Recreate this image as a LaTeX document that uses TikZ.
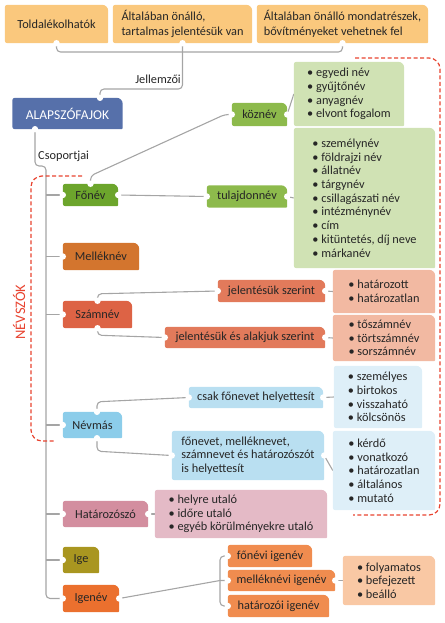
\documentclass[tikz,border=0pt]{standalone}
\usepackage{fontspec}
\setmainfont{Carlito}
\usetikzlibrary{calc}
\definecolor{txt}{HTML}{262626}
\definecolor{lineg}{HTML}{A5A5A5}
\definecolor{redd}{HTML}{E8432F}
\definecolor{cTop}{HTML}{FAC87D}
\definecolor{cAlap}{HTML}{5670AA}
\definecolor{cFon}{HTML}{6CA52C}
\definecolor{cKoz}{HTML}{8DBA4C}
\definecolor{cKozL}{HTML}{D0E2B4}
\definecolor{cMell}{HTML}{D3752E}
\definecolor{cSzam}{HTML}{DD6345}
\definecolor{cJsz}{HTML}{E27A5B}
\definecolor{cSzL}{HTML}{F2B9A2}
\definecolor{cNev}{HTML}{8CCDEA}
\definecolor{cCsak}{HTML}{B9DFF1}
\definecolor{cNevL}{HTML}{DEEFF8}
\definecolor{cHat}{HTML}{D38E9F}
\definecolor{cHatL}{HTML}{E4BAC6}
\definecolor{cIge}{HTML}{A99620}
\definecolor{cIgn}{HTML}{EB702E}
\definecolor{cIgs}{HTML}{F08C4F}
\definecolor{cIgL}{HTML}{F9C8A4}
\pgfdeclarelayer{back}\pgfdeclarelayer{fills}\pgfsetlayers{back,fills,main}
\newcommand\fs{\fontsize{12.3}{13.7}\selectfont}
\newcommand\fsb{\fontsize{13.5}{15}\selectfont}
\newcommand\fsn{\fontsize{14.5}{16}\selectfont}
\newcommand\bu{\textbullet\ }
\newcommand\mmshape[2]{\fill[#2] (#1.west) [rounded corners=2.5pt] -- (#1.north west) -- (#1.north) [rounded corners=6pt] -- (#1.north east) -- (#1.east) [rounded corners=1pt] -- (#1.south east) -- (#1.south) [rounded corners=2.5pt] -- (#1.south west) -- cycle;}
\newcommand\notch[1]{\fill[white] (#1) circle (3.2);}
\begin{document}
\begin{tikzpicture}[x=1pt,y=-1pt,
  every node/.style={font=\fs, text=txt, inner sep=0pt},
  bx/.style 2 args={minimum width=#1, minimum height=#2},
  conn/.style={draw=lineg, line width=1.1pt},
  bnd/.style={draw=redd, line width=1.2pt, dash pattern=on 4pt off 2.5pt, rounded corners=11pt}]
\useasboundingbox (0,0) rectangle (444,623);
% top
\node[bx={103}{38}] (t1) at (56.5,24) {Toldalékolhatók};
\node[bx={139}{38}, align=left] (t2) at (182.5,24) {Általában önálló,\\[1.3pt]tartalmas jelentésük van};
\node[bx={171}{38}, align=left] (t3) at (342.5,24) {Általában önálló mondatrészek,\\[1.3pt]bővítményeket vehetnek fel};
\node[bx={110}{31}, text=white, font=\fsb] (alap) at (67.5,113.5) {ALAPSZÓFAJOK};
\node[anchor=base east] (jel) at (181,84) {Jellemzői};
\node[anchor=base west] (csop) at (38,159.5) {Csoportjai};
\node[rotate=90, text=redd, font=\fsn] (nevsz) at (19,312) {NÉVSZÓK};
% left column
\node[bx={55}{22}] (fonev) at (90.5,195) {Főnév};
\node[bx={76}{27}] (mell) at (101,256.5) {Melléknév};
\node[bx={69}{27}] (szam) at (97.5,314.5) {Számnév};
\node[bx={59}{26}] (nevm) at (92.5,425) {Névmás};
\node[bx={85}{26}] (hatsz) at (105.5,514) {Határozószó};
\node[bx={36}{26}] (ige) at (81,560) {Ige};
\node[bx={56}{27}] (igenev) at (91,598.5) {Igenév};
% right side
\node[bx={55}{23}] (koz) at (259.5,114.5) {köznév};
\node[bx={110}{64}, align=left] (kozL) at (349,94) {\bu egyedi név\\\bu gyűjtőnév\\\bu anyagnév\\\bu elvont fogalom};
\node[bx={80}{22}] (tul) at (247,196.5) {tulajdonnév};
\node[bx={141}{140}, align=left] (tulL) at (364.5,198) {\bu személynév\\\bu földrajzi név\\\bu állatnév\\\bu tárgynév\\\bu csillagászati név\\\bu intézménynév\\\bu cím\\\bu kitüntetés, díj neve\\\bu márkanév};
\node[bx={107}{22}] (jsz) at (271.5,291) {jelentésük szerint};
\node[bx={102}{43}, align=left] (jszL) at (384,291.5) {\bu határozott\\\bu határozatlan};
\node[bx={160}{21}] (jasz) at (245,337.5) {jelentésük és alakjuk szerint};
\node[bx={102}{46}, align=left] (jaszL) at (384,338) {\bu tőszámnév\\\bu törtszámnév\\\bu sorszámnév};
\node[bx={134}{21}] (csak) at (256,397.5) {csak főnevet helyettesít};
\node[bx={88}{62}, align=left] (csakL) at (378,397) {\bu személyes\\\bu birtokos\\\bu visszaható\\\bu kölcsönös};
\node[bx={152}{49}, align=left] (fon) at (248,455.5) {főnevet, melléknevet,\\számnevet és határozószót\\is helyettesít};
\node[bx={102}{79}, align=left] (fonL) at (384,470.5) {\bu kérdő\\\bu vonatkozó\\\bu határozatlan\\\bu általános\\\bu mutató};
\node[bx={172}{48}, align=left] (hatL) at (241,514) {\bu helyre utaló\\\bu időre utaló\\\bu egyéb körülményekre utaló};
\node[bx={84}{22}] (fig) at (270,556) {főnévi igenév};
\node[bx={107}{21}] (mig) at (281.5,580.5) {melléknévi igenév};
\node[bx={101}{22}] (hig) at (278.5,606) {határozói igenév};
\node[bx={92}{49}, align=left] (igL) at (389,580.5) {\bu folyamatos\\\bu befejezett\\\bu beálló};
% coordinates
\coordinate (aT) at ([xshift=32.5pt]alap.north);
\coordinate (aB) at ([xshift=-32.5pt]alap.south);
\coordinate (nT) at ([xshift=4.5pt]nevm.north);
\coordinate (nB) at ([xshift=4.5pt]nevm.south);
\coordinate (brk) at (0,52);
\coordinate (jl) at (0,89);
\coordinate (sp) at (46,166);
\coordinate (ib) at (220,580.5);
\begin{pgfonlayer}{back}
\draw[conn, rounded corners=4pt] (t1.south) -- (t1.south |- brk) -- (t3.south |- brk) -- (t3.south);
\draw[conn, rounded corners=4pt] (t2.south) -- (t2.south |- jl) -- (aT |- jl) -- (aT);
\draw[conn, rounded corners=4pt] (aB) -- (aB |- sp) -- (sp) -- (sp |- igenev.west) -- (igenev.west);
\foreach \n in {fonev,mell,szam,nevm,hatsz,ige} \draw[conn] (sp |- \n.west) -- (\n.west);
\draw[conn, rounded corners=4pt] (fonev.north) -- ++(0,-8) -- ([xshift=-7pt]koz.west) -- (koz.west);
\draw[conn] (fonev.east) -- (tul.west);
\draw[conn, rounded corners=4pt] (szam.north) -- ++(0,-7) -- (jsz.west);
\draw[conn, rounded corners=4pt] (szam.south) -- ++(0,7) -- (jasz.west);
\draw[conn, rounded corners=4pt] (nT) -- ++(0,-10) -- (csak.west);
\draw[conn, rounded corners=4pt] (nB) -- ++(0,13) -- (fon.west);
\draw[conn] (igenev.east) -- (ib) -- (mig.west);
\draw[conn, rounded corners=4pt] (fig.west) -- (ib |- fig.west) -- (ib |- hig.west) -- (hig.west);
\draw[conn] (koz.east) -- (kozL.west);
\draw[conn] (tul.east) -- (tulL.west);
\draw[conn] (jsz.east) -- (jszL.west);
\draw[conn] (jasz.east) -- (jaszL.west);
\draw[conn] (csak.east) -- (csakL.west);
\draw[conn] (fon.east) -- (fonL.west);
\draw[conn] (hatsz.east) -- (hatL.west);
\draw[conn] (mig.east) -- (igL.west);
\draw[bnd] (355,58) -- (440,58) -- (440,515) -- (353,515);
\draw[bnd] (82,176) -- (31,176) -- (31,441) -- (55,441);
\end{pgfonlayer}
\begin{pgfonlayer}{fills}
\mmshape{t1}{cTop}\mmshape{t2}{cTop}\mmshape{t3}{cTop}
\mmshape{alap}{cAlap}
\mmshape{fonev}{cFon}\mmshape{mell}{cMell}\mmshape{szam}{cSzam}\mmshape{nevm}{cNev}
\mmshape{hatsz}{cHat}\mmshape{ige}{cIge}\mmshape{igenev}{cIgn}
\mmshape{koz}{cKoz}\mmshape{kozL}{cKozL}\mmshape{tul}{cKoz}\mmshape{tulL}{cKozL}
\mmshape{jsz}{cJsz}\mmshape{jszL}{cSzL}\mmshape{jasz}{cJsz}\mmshape{jaszL}{cSzL}
\mmshape{csak}{cCsak}\mmshape{csakL}{cNevL}\mmshape{fon}{cCsak}\mmshape{fonL}{cNevL}
\mmshape{hatL}{cHatL}
\mmshape{fig}{cIgs}\mmshape{mig}{cIgs}\mmshape{hig}{cIgs}\mmshape{igL}{cIgL}
\foreach \p in {t1.south,t2.south,t3.south,aT,aB,fonev.west,fonev.north,fonev.east,koz.west,koz.east,tul.west,tul.east,mell.west,szam.west,szam.north,szam.south,jsz.west,jsz.east,jasz.west,jasz.east,nevm.west,nT,nB,csak.west,csak.east,fon.west,fon.east,hatsz.west,hatsz.east,ige.west,igenev.west,igenev.east,fig.west,mig.west,mig.east,hig.west} \notch{\p};
\end{pgfonlayer}
\end{tikzpicture}
\end{document}
